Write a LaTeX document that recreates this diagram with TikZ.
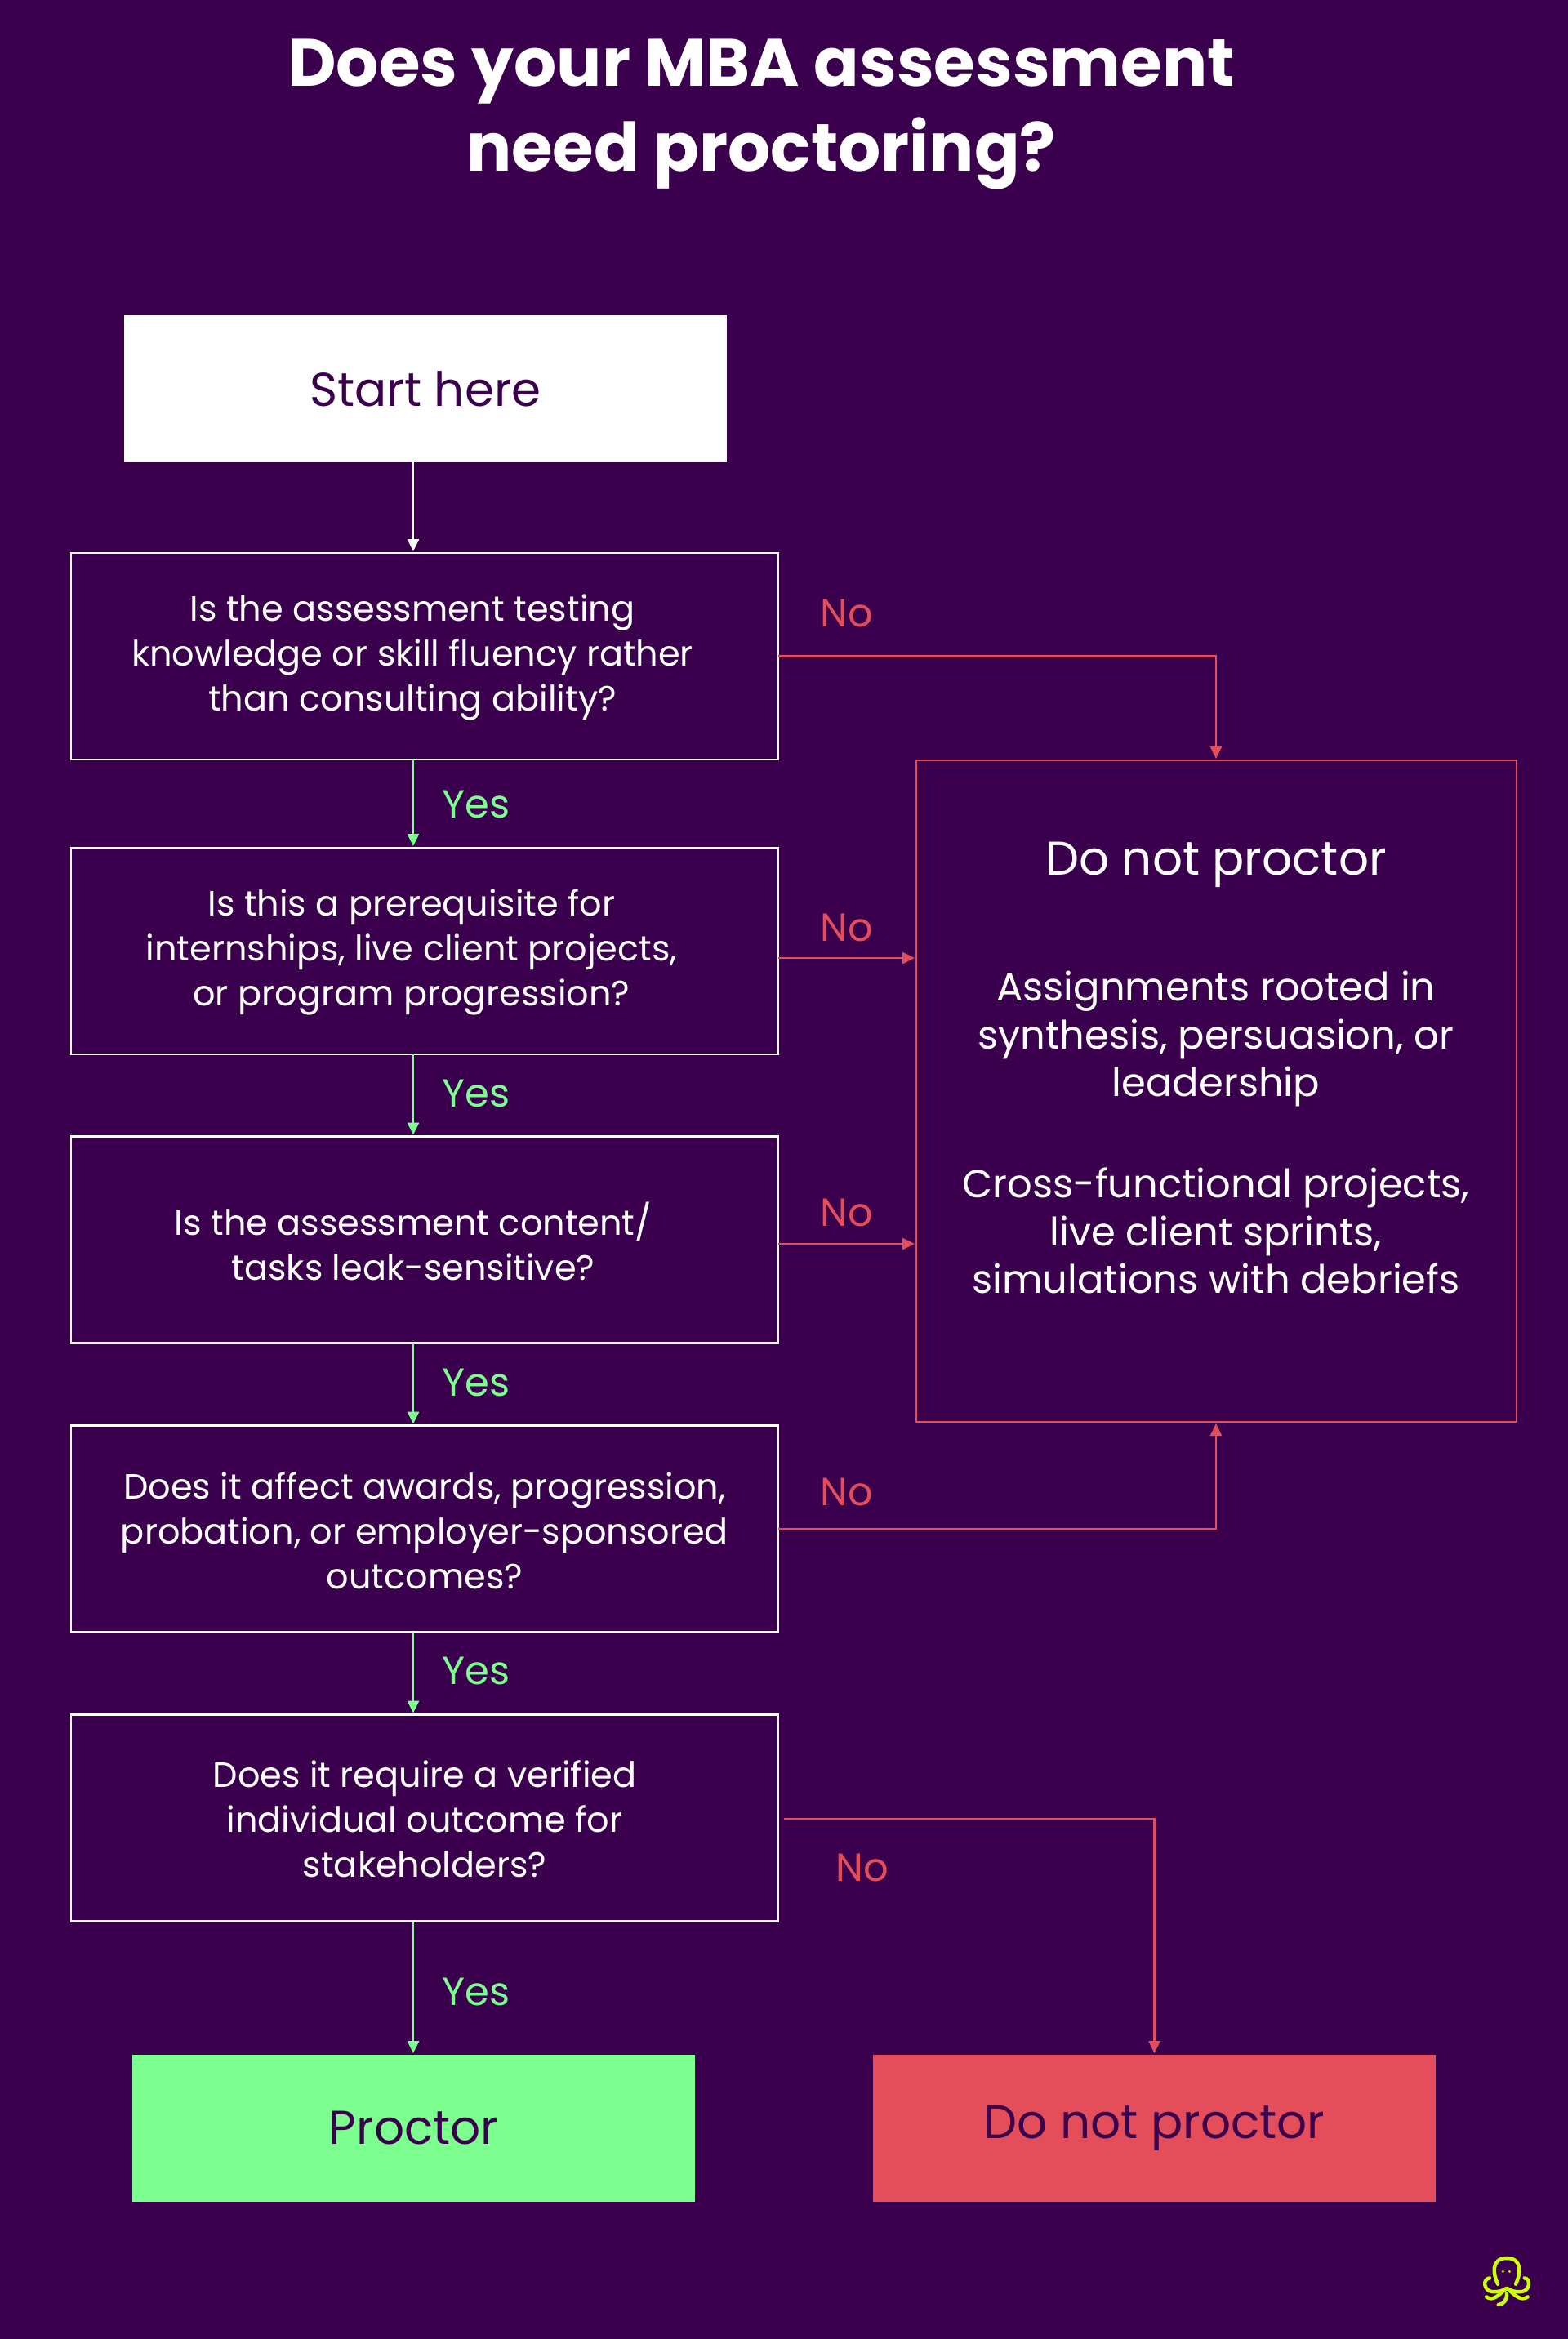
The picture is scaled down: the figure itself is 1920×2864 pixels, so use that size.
\documentclass[tikz,border=0pt]{standalone}
\usepackage{fontspec}
\setmainfont{Poppins}
\usetikzlibrary{arrows.meta,calc}
\definecolor{bg}{HTML}{3B004D}
\definecolor{grn}{HTML}{7CFF8E}
\definecolor{rd}{HTML}{E44D5A}
\definecolor{lime}{HTML}{CCFF00}
\tikzset{
  qbox/.style={draw=white,line width=1.25pt,fill=bg,minimum width=433pt,minimum height=126.5pt,inner sep=0pt,outer sep=0pt},
  qtext/.style={text=white,align=center,font=\fontsize{21.5}{27.4}\selectfont,inner sep=0pt},
  endbox/.style={minimum width=344.5pt,minimum height=90pt,inner sep=0pt,outer sep=0pt,text=bg,font=\fontsize{29}{35}\selectfont},
  flow/.style={line width=1.25pt,-{Triangle[length=7.5pt,width=7pt]},shorten >=1pt},
  yesflow/.style={flow,draw=grn},
  noflow/.style={flow,draw=rd},
  startflow/.style={flow,draw=white},
  yeslabel/.style={text=grn,font=\fontsize{24}{28}\selectfont,inner sep=0pt},
  nolabel/.style={text=rd,font=\fontsize{24}{28}\selectfont,inner sep=0pt},
  octo/.style={draw=lime,line width=2.2pt,line cap=round,line join=round}
}
\begin{document}
\begin{tikzpicture}[x=0.5pt,y=-0.5pt]
\fill[bg] (0,0) rectangle (1920,2864);
\useasboundingbox (0,0) rectangle (1920,2864);
\node[text=white,align=center,inner sep=0pt,font=\fontsize{41}{52}\selectfont\bfseries] (title) at (932,140) {Does your MBA assessment\\need proctoring?};
\node[fill=white,minimum width=369pt,minimum height=90pt,inner sep=0pt,outer sep=0pt,text=bg,font=\fontsize{29}{35}\selectfont] (start) at (521,476) {Start here};
\node[qbox] (q1) at (520,803.5) {};
\node[qbox] (q2) at (520,1164.5) {};
\node[qbox] (q3) at (520,1518) {};
\node[qbox] (q4) at (520,1872) {};
\node[qbox] (q5) at (520,2226) {};
\node[qtext] (t1) at (505,805) {Is the assessment testing\\knowledge or skill fluency rather\\than consulting ability?};
\node[qtext] (t2) at (504,1166) {Is this a prerequisite for\\internships, live client projects,\\or program progression?};
\node[qtext] (t3) at (506,1520) {Is the assessment content/\\tasks leak-sensitive?};
\node[qtext] (t4) at (520,1874) {Does it affect awards, progression,\\probation, or employer-sponsored\\outcomes?};
\node[qtext] (t5) at (520,2227) {Does it require a verified\\individual outcome for\\stakeholders?};
\node[draw=rd,line width=1.25pt,minimum width=367.5pt,minimum height=405pt,inner sep=0pt,outer sep=0pt] (dn) at (1489.5,1336) {};
\node[text=white,font=\fontsize{29}{35}\selectfont,inner sep=0pt] (dnh) at (1489,1059) {Do not proctor};
\node[text=white,align=center,font=\fontsize{24}{29.2}\selectfont,inner sep=0pt] (dnb1) at (1489,1272) {Assignments rooted in\\synthesis, persuasion, or\\leadership};
\node[text=white,align=center,font=\fontsize{24}{29.2}\selectfont,inner sep=0pt] (dnb2) at (1489,1507) {Cross-functional projects,\\live client sprints,\\simulations with debriefs};
\node[endbox,fill=grn] (pr) at (506.5,2606) {Proctor};
\node[endbox,fill=rd] (dnp) at (1413.5,2606) {Do not proctor};
\coordinate (spine) at (506,0);
\coordinate (j1) at (1489,803.5);
\coordinate (j2) at (1122,1173);
\coordinate (j3) at (1122,1523);
\coordinate (j4) at (1489,1872);
\coordinate (j5) at (1413.5,2227);
\draw[startflow] (start.south -| spine) -- (q1.north -| spine);
\draw[yesflow] (q1.south -| spine) -- (q2.north -| spine);
\draw[yesflow] (q2.south -| spine) -- (q3.north -| spine);
\draw[yesflow] (q3.south -| spine) -- (q4.north -| spine);
\draw[yesflow] (q4.south -| spine) -- (q5.north -| spine);
\draw[yesflow] (q5.south -| spine) -- (pr.north -| spine);
\draw[noflow] (q1.east |- j1) -- (j1) -- (dn.north -| j1);
\draw[noflow] (q2.east |- j2) -- (j2);
\draw[noflow] (q3.east |- j3) -- (j3);
\draw[noflow] (q4.east |- j4) -- (j4) -- (dn.south -| j4);
\draw[noflow,shorten <=3.5pt] (q5.east |- j5) -- (j5) -- (dnp.north);
\node[nolabel] (n1) at (1037,751) {No};
\node[nolabel] (n2) at (1037,1136) {No};
\node[nolabel] (n3) at (1037,1485) {No};
\node[nolabel] (n4) at (1037,1827) {No};
\node[nolabel] (n5) at (1056,2287) {No};
\node[yeslabel] (y1) at (583,985) {Yes};
\node[yeslabel] (y2) at (583,1339) {Yes};
\node[yeslabel] (y3) at (583,1693) {Yes};
\node[yeslabel] (y4) at (583,2046) {Yes};
\node[yeslabel] (y5) at (583,2439) {Yes};
% octopus mark
\begin{scope}[shift={(1760,2720)},x=0.1667pt,y=-0.1667pt]
\draw[octo] (222,230) .. controls (205,195) and (195,135) .. (255,135) .. controls (315,135) and (305,195) .. (288,230);
\fill[lime] (241,184) circle (5) (265,184) circle (5);
\draw[octo] (192,208) .. controls (165,210) and (170,255) .. (200,258) .. controls (225,260) and (240,255) .. (255,245) .. controls (270,255) and (285,260) .. (310,258) .. controls (340,255) and (345,210) .. (320,208);
\draw[octo] (180,277) .. controls (205,295) and (225,270) .. (255,245) .. controls (285,270) and (305,295) .. (332,277);
\draw[octo] (255,265) .. controls (255,290) and (245,303) .. (224,306);
\end{scope}
\end{tikzpicture}
\end{document}
